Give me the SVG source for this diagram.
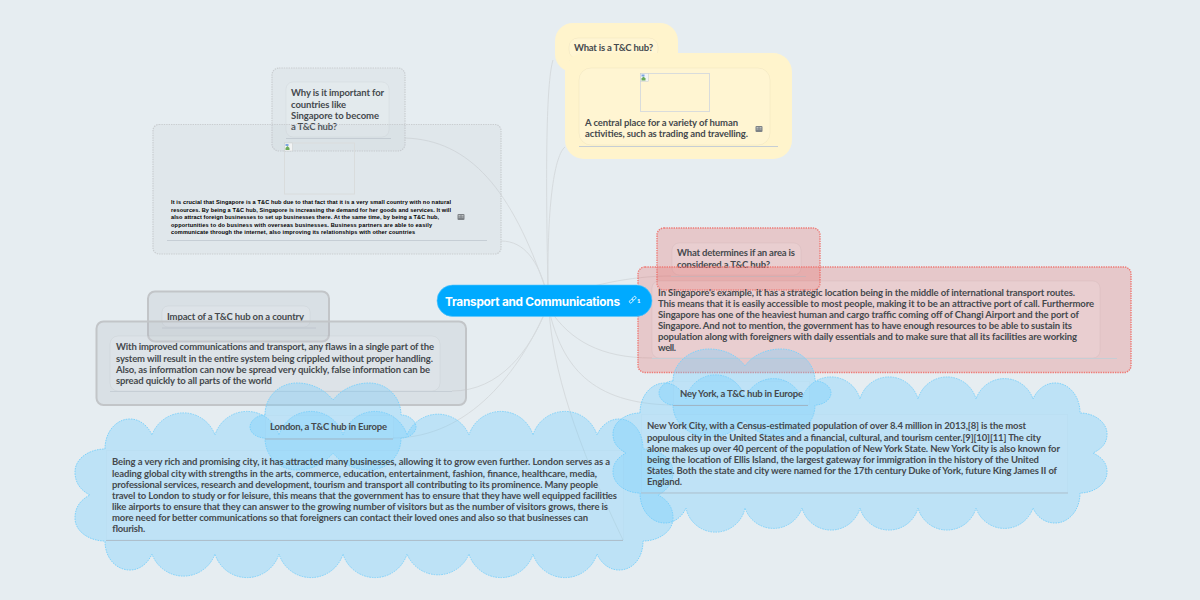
<svg xmlns="http://www.w3.org/2000/svg" width="1200" height="600" viewBox="0 0 1200 600">
<style>
text{font-family:"Lato","Liberation Sans",sans-serif;font-weight:700;font-size:9.5px;fill:#45494d}
.small{font-size:5.6px;fill:#000;font-family:"Liberation Sans",sans-serif}
.root{font-size:11.800px;fill:#fff;font-weight:700;font-family:"Inter","Liberation Sans",sans-serif}
.one{font-size:6px;fill:#fff}
.con{fill:none;stroke:#d6dbde;stroke-width:1}
.yel{fill:#fff4cc}
.card{fill:#fff;fill-opacity:.12;stroke:#000;stroke-opacity:.035;stroke-width:1}
.ul{stroke:#c6ced5;stroke-width:1;fill:none}
.ph{fill:none;stroke:#d9dcdc;stroke-width:1}
.gd{fill:#b9bfc5;fill-opacity:.12;stroke:#c9cdd0;stroke-width:1.2;stroke-dasharray:1.4 1}
.gs{fill:#aeb3b9;fill-opacity:.22;stroke:#c2c5c8;stroke-width:2}
.red{fill:#e66461;fill-opacity:.27;stroke:#ee7a75;stroke-width:1.4;stroke-dasharray:1.4 1}
.cl{fill:#6ecdff;fill-opacity:.34;stroke:#7fd2fb;stroke-width:1;stroke-dasharray:1.6 1}
.flat{fill:#fff;fill-opacity:.03;stroke:#000;stroke-opacity:.012}
</style>
<defs>
<g id="broken"><rect width="8" height="8" fill="#f2f4f4" stroke="#c8cccc" stroke-width=".5"/><path d="M1,5 L3,3 L5,5 L5,7 L1,7Z" fill="#6bab5a"/><rect x="1" y="1" width="3" height="2" fill="#7ea6e0"/></g>
<g id="note"><rect width="7" height="6" rx="1" fill="#7d8286"/><path d="M1,1.5H3M1,3H3M4,1.5H6M4,3H6" stroke="#e6e8e8" stroke-width=".6"/></g>
</defs>
<rect width="1200" height="600" fill="#e6edf1"/>

<g id="connectors">
<path class="con" d="M553,60 C547,80 545,150 548,290"/>
<path class="con" d="M565,147 C555,155 547,200 548,290"/>
<path class="con" d="M405,138 C470,140 512,190 546,290"/>
<path class="con" d="M501,241 C525,241 538,262 546,290"/>
<path class="con" d="M548,300 C590,285 630,276 671,276"/>
<path class="con" d="M550,310 C570,340 600,358 652,358"/>
<path class="con" d="M549,310 C562,365 590,404 673,405"/>
<path class="con" d="M452,391 C500,391 530,350 546,310"/>
<path class="con" d="M393,438 C470,438 520,370 546,310"/>
<path class="con" d="M549,310 C553,370 575,440 623,540"/>
</g>

<g id="what-is">
<rect class="yel" x="555" y="23" width="123" height="49" rx="18"/>
<rect class="card" x="569" y="38" width="89" height="21" rx="9"/>
<path class="ul" d="M569,60.500H664"/>
<text x="574" y="51" textLength="79">What is a T&amp;C hub?</text>
</g>

<g id="central-place">
<rect class="yel" x="565" y="53" width="227" height="106" rx="19"/>
<rect class="card" x="579" y="68" width="191" height="77" rx="12"/>
<path class="ul" d="M579,146.500H778"/>
<rect class="ph" x="640.500" y="73.500" width="69" height="38"/>
<use href="#broken" x="640.500" y="73.500"/>
<text x="585" y="126" textLength="153">A central place for a variety of human</text>
<text x="585" y="137" textLength="163">activities, such as trading and travelling.</text>
<use href="#note" x="755.500" y="126"/>
</g>

<g id="why-important">
<rect class="gd" x="272" y="68" width="133" height="83" rx="7"/>
<rect class="card" x="286" y="82" width="103" height="55" rx="7"/>
<path class="ul" d="M286,138.500H391"/>
<text x="291" y="95.500" textLength="93">Why is it important for</text>
<text x="291" y="107.500" textLength="55">countries like</text>
<text x="291" y="118.500" textLength="88">Singapore to become</text>
<text x="291" y="129.500" textLength="46">a T&amp;C hub?</text>
</g>

<g id="why-answer">
<rect class="gd" x="153" y="124.500" width="348" height="129.500" rx="6"/>
<rect class="ph" x="284.500" y="143" width="70" height="51"/>
<use href="#broken" x="284.500" y="143"/>
<path class="ul" d="M167,240.500H487"/>
<text class="small" x="171" y="204" textLength="280">It is crucial that Singapore is a T&amp;C hub due to that fact that it is a very small country with no natural</text>
<text class="small" x="171" y="211.500" textLength="280">resources. By being a T&amp;C hub, Singapore is increasing the demand for her goods and services. It will</text>
<text class="small" x="171" y="219" textLength="268">also attract foreign businesses to set up businesses there. At the same time, by being a T&amp;C hub,</text>
<text class="small" x="171" y="226.500" textLength="261">opportunities to do business with overseas businesses. Business partners are able to easily</text>
<text class="small" x="171" y="234" textLength="244">communicate through the internet, also improving its relationships with other countries</text>
<use href="#note" x="457.500" y="214"/>
</g>

<g id="impact">
<rect class="gs" x="148" y="291.500" width="181" height="50" rx="7"/>
<rect class="card" x="162" y="306" width="148" height="21" rx="6"/>
<path class="ul" d="M162,328H316"/>
<text x="167" y="319.500" textLength="137">Impact of a T&amp;C hub on a country</text>
</g>

<g id="impact-answer">
<rect class="gs" x="96.500" y="321.500" width="369.500" height="83.500" rx="7"/>
<rect class="card" x="110" y="336" width="330" height="55" rx="8"/>
<path class="ul" d="M110,391.500H452"/>
<text x="116" y="349.500" textLength="318">With improved communications and transport, any flaws in a single part of the</text>
<text x="116" y="361.500" textLength="317">system will result in the entire system being crippled without proper handling.</text>
<text x="116" y="372.500" textLength="314">Also, as information can now be spread very quickly, false information can be</text>
<text x="116" y="383.500" textLength="156">spread quickly to all parts of the world</text>
</g>

<g id="what-determines">
<rect class="red" x="657" y="228" width="163" height="62" rx="7"/>
<rect class="card" x="672" y="243" width="129" height="32" rx="7"/>
<path class="ul" d="M671,276.500H806"/>
<text x="677" y="256" textLength="118">What determines if an area is</text>
<text x="677" y="267.500" textLength="93">considered a T&amp;C hub?</text>
</g>

<g id="singapore-answer">
<rect class="red" x="638" y="267" width="493" height="105.500" rx="7"/>
<rect class="card" x="652" y="281" width="448" height="77" rx="7"/>
<path class="ul" d="M652,358.500H1117"/>
<text x="658" y="295.500" textLength="417">In Singapore's example, it has a strategic location being in the middle of international transport routes.</text>
<text x="658" y="306.500" textLength="436">This means that it is easily accessible to most people, making it to be an attractive port of call. Furthermore</text>
<text x="658" y="317.500" textLength="421">Singapore has one of the heaviest human and cargo traffic coming off of Changi Airport and the port of</text>
<text x="658" y="328.500" textLength="414">Singapore. And not to mention, the government has to have enough resources to be able to sustain its</text>
<text x="658" y="339.500" textLength="419">population along with foreigners with daily essentials and to make sure that all its facilities are working</text>
<text x="658" y="350.500" textLength="18">well.</text>
</g>

<g id="cloud-shapes">
<path class="cl" d="M640,413 C640,396 651,383 665,383 C674,383 682,390 686,399 A30.100 30.100 0 0 1 745,399 A30.100 30.100 0 0 1 802,399 A30.100 30.100 0 0 1 860,399 A30.100 30.100 0 0 1 918,399 A30.100 30.100 0 0 1 976,399 A30.100 30.100 0 0 1 1033,399 C1037,390 1045,383 1055,383 C1069,383 1080,396 1080,413 C1094,413 1107,422 1107,434 C1107,444 1101,449 1093,453 C1101,457 1107,462 1107,472 C1107,484 1094,493 1080,493 C1080,510 1069,523 1055,523 C1045,523 1037,517 1033,508 A30.100 30.100 0 0 1 976,508 A30.100 30.100 0 0 1 918,508 A30.100 30.100 0 0 1 860,508 A30.100 30.100 0 0 1 802,508 A30.100 30.100 0 0 1 745,508 A30.100 30.100 0 0 1 686,508 C682,517 674,523 665,523 C651,523 640,510 640,493 C626,493 613,484 613,472 C613,462 619,457 626,453 C619,449 613,444 613,434 C613,422 626,413 640,413Z"/>
<path class="cl" d="M673,381 C673,363 690,349 709,349 C725,349 738,356 745,366 C752,356 765,349 781,349 C800,349 815,363 815,381 C824,381 831,387 831,393 C831,399 824,405 815,405 C815,423 800,437 781,437 C765,437 752,430 745,420 C738,430 725,437 709,437 C690,437 673,423 673,405 C666,405 659,399 659,393 C659,387 666,381 673,381Z"/>
<path class="cl" d="M105,449 C105,432 116,419 130,419 C140,419 148,426 152,435 A33.500 33.500 0 0 1 215,435 A33.500 33.500 0 0 1 279,435 A33.500 33.500 0 0 1 343,435 A33.500 33.500 0 0 1 407,435 A33.500 33.500 0 0 1 469,435 A33.500 33.500 0 0 1 533,435 A33.500 33.500 0 0 1 597,435 C601,426 609,419 619,419 C633,419 643,432 643,449 C658,449 673,458 673,472 C673,484 666,491 658,495 C666,499 673,506 673,518 C673,532 658,541 643,541 C643,558 633,570 619,570 C609,570 601,563 597,554 A33.500 33.500 0 0 1 533,554 A33.500 33.500 0 0 1 469,554 A33.500 33.500 0 0 1 407,554 A33.500 33.500 0 0 1 343,554 A33.500 33.500 0 0 1 279,554 A33.500 33.500 0 0 1 215,554 A33.500 33.500 0 0 1 152,554 C148,563 140,570 130,570 C116,570 105,558 105,541 C90,541 75,532 75,518 C75,506 82,499 90,495 C82,491 75,484 75,472 C75,458 90,449 105,449Z"/>
<path class="cl" d="M265,415 C265,397 279,383 297,383 C312,383 325,390 333,400 C341,390 354,383 369,383 C387,383 401,397 401,415 C409,415 416,421 416,427 C416,433 409,438 401,438 C401,456 387,470 369,470 C354,470 341,463 333,453 C325,463 312,470 297,470 C279,470 265,456 265,438 C257,438 250,433 250,427 C250,421 257,415 265,415Z"/>
</g>

<g id="newyork-answer">
<rect class="flat" x="641.500" y="414.500" width="426" height="78"/>
<path class="ul" d="M641,493H1068" style="stroke:#adbfcc"/>
<text x="647" y="428.500" textLength="379">New York City, with a Census-estimated population of over 8.4 million in 2013,[8] is the most</text>
<text x="647" y="440.500" textLength="394">populous city in the United States and a financial, cultural, and tourism center.[9][10][11] The city</text>
<text x="647" y="451.500" textLength="413">alone makes up over 40 percent of the population of New York State. New York City is also known for</text>
<text x="647" y="462.500" textLength="392">being the location of Ellis Island, the largest gateway for immigration in the history of the United</text>
<text x="647" y="473.500" textLength="410">States. Both the state and city were named for the 17th century Duke of York, future King James II of</text>
<text x="647" y="484.500" textLength="35">England.</text>
</g>

<g id="newyork-title">
<rect class="flat" x="673.500" y="381.500" width="136" height="23"/>
<path class="ul" d="M673,405.500H808" style="stroke:#9fb6c6"/>
<text x="680" y="396.500" textLength="123">Ney York, a T&amp;C hub in Europe</text>
</g>

<g id="london-answer">
<rect class="flat" x="106.500" y="450.500" width="517" height="89"/>
<path class="ul" d="M106,540.500H623" style="stroke:#adbfcc"/>
<text x="112" y="464.500" textLength="498">Being a very rich and promising city, it has attracted many businesses, allowing it to grow even further. London serves as a</text>
<text x="112" y="476.500" textLength="485">leading global city with strengths in the arts, commerce, education, entertainment, fashion, finance, healthcare, media,</text>
<text x="112" y="487.500" textLength="486">professional services, research and development, tourism and transport all contributing to its prominence. Many people</text>
<text x="112" y="498.500" textLength="505">travel to London to study or for leisure, this means that the government has to ensure that they have well equipped facilities</text>
<text x="112" y="509.500" textLength="496">like airports to ensure that they can answer to the growing number of visitors but as the number of visitors grows, there is</text>
<text x="112" y="520.500" textLength="476">more need for better communications so that foreigners can contact their loved ones and also so that businesses can</text>
<text x="112" y="531.500" textLength="33">flourish.</text>
</g>

<g id="london-title">
<rect class="flat" x="265.500" y="415.500" width="128" height="23"/>
<path class="ul" d="M265,439H393" style="stroke:#9fb6c6"/>
<text x="270" y="429.500" textLength="117">London, a T&amp;C hub in Europe</text>
</g>

<g id="central">
<rect x="437" y="285" width="215" height="31.500" rx="15.700" fill="#00aaff" stroke="#5cc6fb" stroke-width=".6"/>
<text class="root" x="445" y="306" textLength="175">Transport and Communications</text>
<g stroke="#fff" stroke-width=".8" fill="none"><rect x="629" y="300" width="4" height="2.600" rx="1.300" transform="rotate(-45 631 301)"/><rect x="632" y="297" width="4" height="2.600" rx="1.300" transform="rotate(-45 634 298)"/></g>
<text class="one" x="637" y="303">1</text>
</g>
</svg>
